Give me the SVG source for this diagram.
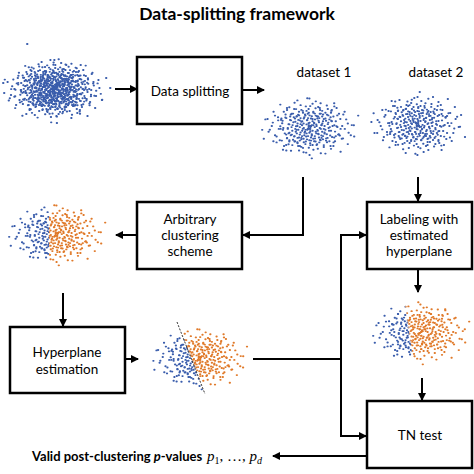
<svg xmlns="http://www.w3.org/2000/svg" xmlns:xlink="http://www.w3.org/1999/xlink" width="474" height="474" viewBox="0 0 474 474">
<style>
.box{fill:#fff;stroke:#000;stroke-width:2.5}
.lbl{font-family:Lato,"Noto Sans",sans-serif;font-size:13.5px;fill:#000;text-anchor:middle}
.con{fill:none;stroke:#000;stroke-width:2}
.blue{stroke:#3a5dac}
.orange{stroke:#e07a2a}
</style>
<defs>
<marker id="ah" markerUnits="userSpaceOnUse" markerWidth="8" markerHeight="8" refX="7" refY="4" orient="auto">
<path d="M0,0 L8,4 L0,8 z" fill="#000"/>
</marker>
<path id="pts" fill="none" stroke-width="1.9" stroke-linecap="round" vector-effect="non-scaling-stroke" d="M-3 2h.5M5-4h.5M12 1h.5M-10-6h.5M18 7h.5M-17 3h.5M2 9h.5M-6-12h.5M9-9h.5M22-3h.5M-22-2h.5M0-1h.5M7 5h.5M-13 8h.5M15-11h.5M-1 14h.5M26 4h.5M-26 6h.5M4-15h.5M-8 1h.5M11 11h.5M-19-9h.5M20 12h.5M-4-7h.5M14-2h.5M-15-13h.5M3 4h.5M-11 13h.5M24-8h.5M-24-7h.5M8-1h.5M-2-4h.5M17 2h.5M-7 6h.5M1-9h.5M10 7h.5M-16-1h.5M13 14h.5M-9-15h.5M21-13h.5M-20 10h.5M6 12h.5M-5 10h.5M28-1h.5M-28 1h.5M16-6h.5M-12-3h.5M3-6h.5M-1 6h.5M9 3h.5M-18 5h.5M19-9h.5M-3-14h.5M12-14h.5M-14 11h.5M25 9h.5M-25-11h.5M5 15h.5M-8-9h.5M0 3h.5M14 9h.5M-21-5h.5M23 1h.5M-6 3h.5M7-12h.5M-10 4h.5M18-1h.5M2-2h.5M-17-11h.5M11-5h.5M-4 13h.5M27-6h.5M-27-3h.5M1 11h.5M15 5h.5M-13-7h.5M6-8h.5M-2 0h.5M10-11h.5M-23 8h.5M-35-4h.5M38 2h.5M-42 10h.5M45-8h.5M31 15h.5M-33-16h.5M36-14h.5M-38 14h.5M0-22h.5M4 24h.5M-15 20h.5M17 21h.5M-20-19h.5M22-19h.5M48 6h.5M-48-1h.5M41 12h.5M-44-12h.5M33-20h.5M-30 19h.5M10-21h.5M-9 22h.5M52-2h.5M-52 5h.5M29 20h.5M-37 2h.5M40-1h.5M-29-20h.5M26 23h.5M-12-23h.5M13-25h.5M-5 27h.5M35 8h.5M-40-7h.5M43-16h.5M-46 15h.5M7-27h.5M-1-30h.5M19 28h.5M-24 25h.5M55 10h.5M-56-8h.5M30-25h.5M-34 24h.5M47 18h.5M2 33h.5M-16-28h.5M60-12h.5M-60 3h.5M38 26h.5M-30 8h.5M32-6h.5M-31-10h.5M30 11h.5M-6 18h.5M8 19h.5M-2-19h.5M-19 15h.5M21 16h.5M-23-14h.5M26-15h.5M34 0h.5M-34 3h.5M15-17h.5M-11-18h.5M-29 12h.5M29-11h.5M12-20h.5M-8 16h.5M19-15h.5M-36-9h.5M37 9h.5M3 19h.5M-16 16h.5M16 13h.5M-14-16h.5M24 15h.5M-26 14h.5M27-18h.5M0 17h.5"/>
<clipPath id="c2b"><rect x="0" y="190" width="49" height="90"/></clipPath>
<clipPath id="c2o"><rect x="49" y="190" width="80" height="90"/></clipPath>
<clipPath id="chb"><polygon points="100,300 169.1,300 211.6,410 100,410"/></clipPath>
<clipPath id="cho"><polygon points="169.1,300 300,300 300,410 211.6,410"/></clipPath>
<clipPath id="clb"><polygon points="350,280 401.6,280 417.6,390 350,390"/></clipPath>
<clipPath id="clo"><polygon points="401.6,280 474,280 474,390 417.6,390"/></clipPath>
</defs>

<text x="237" y="20" font-family="Lato,'Noto Sans',sans-serif" font-size="17.5" font-weight="bold" text-anchor="middle">Data-splitting framework</text>

<g id="scatter-all" class="blue">
<use xlink:href="#pts" transform="translate(55,90) scale(0.85,1)"/>
<use xlink:href="#pts" transform="translate(53,91) scale(-0.8,0.95)"/>
<use xlink:href="#pts" transform="translate(57,89) scale(0.75,-0.9)"/>
<use xlink:href="#pts" transform="translate(52,88) scale(-0.7,-0.85)"/>
<use xlink:href="#pts" transform="translate(54,90) scale(0.55,0.6)"/>
<path d="M27 44h.5M3 83h.5M110 88h.5" stroke-width="1.9" stroke-linecap="round"/>
</g>

<g id="scatter-ds1" class="blue">
<use xlink:href="#pts" transform="translate(310,127) scale(0.8,0.95)"/>
<use xlink:href="#pts" transform="translate(309,128) scale(-0.75,-0.9)"/>
</g>
<g id="scatter-ds2" class="blue">
<use xlink:href="#pts" transform="translate(418,125) scale(0.78,-1)"/>
<use xlink:href="#pts" transform="translate(417,124) scale(-0.72,0.9)"/>
</g>
<text class="lbl" x="324" y="77">dataset 1</text>
<text class="lbl" x="436" y="77">dataset 2</text>

<g id="scatter-clustered">
<g clip-path="url(#c2b)" class="blue">
<use xlink:href="#pts" transform="translate(57,234) scale(0.8,0.95)"/>
<use xlink:href="#pts" transform="translate(56,235) scale(-0.75,-0.9)"/>
</g>
<g clip-path="url(#c2o)" class="orange">
<use xlink:href="#pts" transform="translate(57,234) scale(0.8,0.95)"/>
<use xlink:href="#pts" transform="translate(56,235) scale(-0.75,-0.9)"/>
</g>
</g>

<g id="scatter-hyper">
<g clip-path="url(#chb)" class="blue">
<use xlink:href="#pts" transform="translate(200,358) scale(0.78,0.95)"/>
<use xlink:href="#pts" transform="translate(199,359) scale(-0.74,-0.9)"/>
</g>
<g clip-path="url(#cho)" class="orange">
<use xlink:href="#pts" transform="translate(200,358) scale(0.78,0.95)"/>
<use xlink:href="#pts" transform="translate(199,359) scale(-0.74,-0.9)"/>
</g>
<line x1="177" y1="322" x2="205" y2="394" stroke="#333" stroke-width="1" stroke-dasharray="2,1.5"/>
</g>

<g id="scatter-labeled">
<g clip-path="url(#clb)" class="blue">
<use xlink:href="#pts" transform="translate(421,333) scale(0.8,0.95)"/>
<use xlink:href="#pts" transform="translate(420,332) scale(-0.75,-0.9)"/>
</g>
<g clip-path="url(#clo)" class="orange">
<use xlink:href="#pts" transform="translate(421,333) scale(0.8,0.95)"/>
<use xlink:href="#pts" transform="translate(420,332) scale(-0.75,-0.9)"/>
</g>
</g>

<g id="connectors" class="con">
<path d="M115 89H137" marker-end="url(#ah)"/>
<path d="M242 90H264" marker-end="url(#ah)"/>
<path d="M303 177V235H243" marker-end="url(#ah)"/>
<path d="M137 235H116" marker-end="url(#ah)"/>
<path d="M63 293V326" marker-end="url(#ah)"/>
<path d="M418 177V201" marker-end="url(#ah)"/>
<path d="M418 269V292" marker-end="url(#ah)"/>
<path d="M125 359H138" marker-end="url(#ah)"/>
<path d="M253 359H341"/>
<path d="M341 235V436"/>
<path d="M340 235H366" marker-end="url(#ah)"/>
<path d="M340 436H366" marker-end="url(#ah)"/>
<path d="M422 378V400" marker-end="url(#ah)"/>
<path d="M367 456H273" marker-end="url(#ah)"/>
</g>

<g id="node-split">
<rect class="box" x="137" y="57" width="105" height="67"/>
<text class="lbl" x="190" y="96">Data splitting</text>
</g>
<g id="node-cluster">
<rect class="box" x="137" y="202" width="105" height="67"/>
<text class="lbl" x="190" y="224">Arbitrary</text>
<text class="lbl" x="190" y="240">clustering</text>
<text class="lbl" x="190" y="256">scheme</text>
</g>
<g id="node-labeling">
<rect class="box" x="367" y="202" width="105" height="67"/>
<text class="lbl" x="419" y="224">Labeling with</text>
<text class="lbl" x="419" y="240">estimated</text>
<text class="lbl" x="419" y="256">hyperplane</text>
</g>
<g id="node-hyper">
<rect class="box" x="10" y="327" width="115" height="66"/>
<text class="lbl" x="67" y="357">Hyperplane</text>
<text class="lbl" x="67" y="374">estimation</text>
</g>
<g id="node-tn">
<rect class="box" x="367" y="401" width="105" height="67"/>
<text class="lbl" x="420" y="440">TN test</text>
</g>

<text x="32" y="461" font-family="Lato,'Noto Sans',sans-serif" font-size="13" font-weight="bold">Valid post-clustering <tspan font-style="italic">p</tspan>-values</text>
<text x="207" y="461" font-family="'Liberation Serif',serif" font-size="15" font-style="italic">p<tspan font-size="10" dy="3" font-style="normal">1</tspan><tspan dy="-3" font-style="normal">, …, </tspan>p<tspan font-size="10" dy="3">d</tspan></text>
</svg>
